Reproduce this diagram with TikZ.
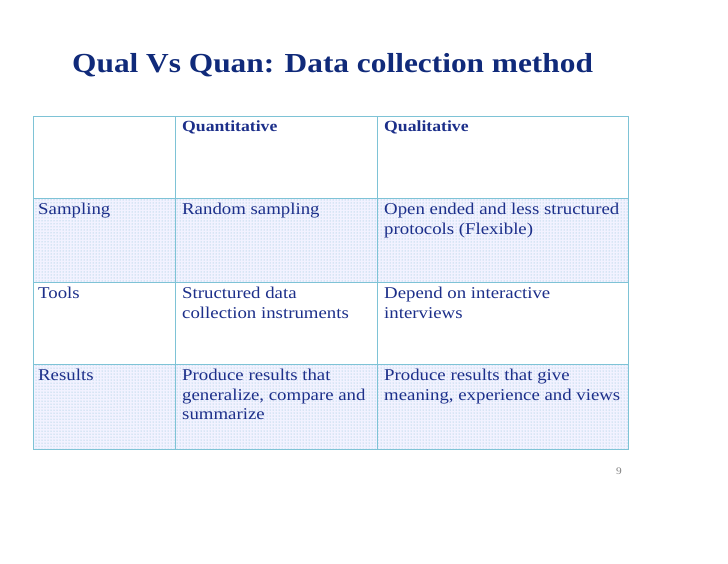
\documentclass[tikz,border=0pt]{standalone}
\usepackage{fontspec}
\setmainfont{Liberation Serif}[FakeStretch=1.14]
\usetikzlibrary{patterns}
\definecolor{txt}{HTML}{1C2F8A}
\definecolor{ttl}{HTML}{102A7A}
\definecolor{grid}{HTML}{7EC3D6}
\definecolor{dotc}{HTML}{7FBCD2}
\tikzset{
  cell/.style={anchor=north west,inner sep=0pt,text=txt,font=\fontsize{16.5}{19.5}\selectfont,align=left},
  band/.style={fill=blue!5,postaction={pattern=dots,pattern color=dotc}}
}
\begin{document}
\begin{tikzpicture}[x=1pt,y=-1pt]
\useasboundingbox (0,0) rectangle (728,563);
\fill[white] (0,0) rectangle (728,563);
\node[anchor=base west,inner sep=0pt,text=ttl,font=\fontsize{27.5}{30}\selectfont\bfseries] (title) at (72,72) {Qual Vs Quan: Data collection method};
\path[band] (33,198) rectangle (628,282);
\path[band] (33,364) rectangle (628,449);
\draw[grid,line width=0.8pt] (33,116) rectangle (628,449);
\foreach \y in {198,282,364} \draw[grid,line width=0.8pt] (33,\y) -- (628,\y);
\foreach \x in {175,377} \draw[grid,line width=0.8pt] (\x,116) -- (\x,449);
\node[cell,font=\fontsize{15.5}{19}\selectfont\bfseries] (h1) at (182,121) {Quantitative};
\node[cell,font=\fontsize{15.5}{19}\selectfont\bfseries] (h2) at (384,121) {Qualitative};
\node[cell] (r1) at (38,203) {Sampling};
\node[cell] (r1a) at (182,203) {Random sampling};
\node[cell] (r1b) at (384,203) {Open ended and less structured\\protocols (Flexible)};
\node[cell] (r2) at (38,287) {Tools};
\node[cell] (r2a) at (182,287) {Structured data\\collection instruments};
\node[cell] (r2b) at (384,287) {Depend on interactive\\interviews};
\node[cell] (r3) at (38,369) {Results};
\node[cell] (r3a) at (182,369) {Produce results that\\generalize, compare and\\summarize};
\node[cell] (r3b) at (384,369) {Produce results that give\\meaning, experience and views};
\node[anchor=base,inner sep=0pt,text=gray,font=\fontsize{10}{11}\selectfont] (pg) at (619,474) {9};
\end{tikzpicture}
\end{document}
